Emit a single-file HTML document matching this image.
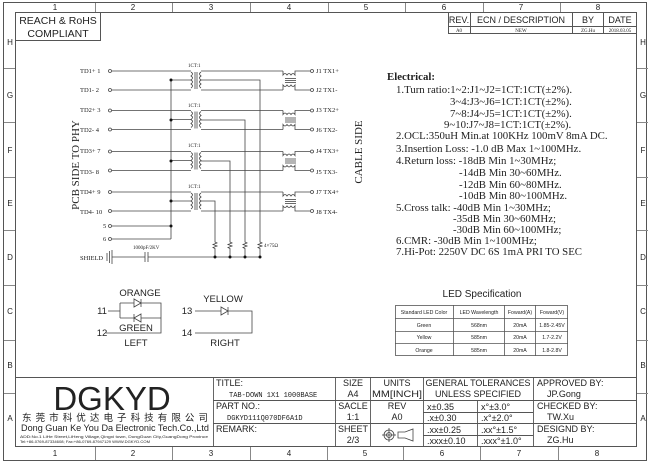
<!DOCTYPE html>
<html><head><meta charset="utf-8"><style>
html,body{margin:0;padding:0;background:#fff}
svg{display:block}
text{font-family:"Liberation Sans",sans-serif;fill:#222}
.s{font-family:"Liberation Serif",serif}
.m{font-family:"Liberation Mono",monospace}
</style></head><body>
<svg width="650" height="462" viewBox="0 0 650 462" xmlns="http://www.w3.org/2000/svg">
<g fill="none" stroke="#555" stroke-width="1">
<rect x="3.5" y="2.5" width="643" height="458"/>
<rect x="15.5" y="12.5" width="621" height="434"/>
</g>
<g stroke="#888" stroke-width="1">
<line x1="95.5" y1="3" x2="95.5" y2="12"/><line x1="172.5" y1="3" x2="172.5" y2="12"/><line x1="250.5" y1="3" x2="250.5" y2="12"/><line x1="328.5" y1="3" x2="328.5" y2="12"/><line x1="405.5" y1="3" x2="405.5" y2="12"/><line x1="483.5" y1="3" x2="483.5" y2="12"/><line x1="560.5" y1="3" x2="560.5" y2="12"/>
<line x1="95.5" y1="447" x2="95.5" y2="460"/><line x1="172.5" y1="447" x2="172.5" y2="460"/><line x1="250.5" y1="447" x2="250.5" y2="460"/><line x1="327.5" y1="447" x2="327.5" y2="460"/><line x1="403.5" y1="447" x2="403.5" y2="460"/><line x1="480.5" y1="447" x2="480.5" y2="460"/><line x1="558.5" y1="447" x2="558.5" y2="460"/>
<g id="rt"><line x1="4" y1="68.5" x2="15" y2="68.5"/><line x1="4" y1="122.5" x2="15" y2="122.5"/><line x1="4" y1="177.5" x2="15" y2="177.5"/><line x1="4" y1="230.5" x2="15" y2="230.5"/><line x1="4" y1="285.5" x2="15" y2="285.5"/><line x1="4" y1="340.5" x2="15" y2="340.5"/><line x1="4" y1="393.5" x2="15" y2="393.5"/></g>
<use href="#rt" x="633"/>
</g>
<g font-size="8" text-anchor="middle">
<text x="55" y="10">1</text><text x="133" y="10">2</text><text x="211" y="10">3</text><text x="289" y="10">4</text><text x="366" y="10">5</text><text x="444" y="10">6</text><text x="521" y="10">7</text><text x="598" y="10">8</text>
<text x="55" y="456">1</text><text x="133" y="456">2</text><text x="211" y="456">3</text><text x="289" y="456">4</text><text x="365" y="456">5</text><text x="442" y="456">6</text><text x="519" y="456">7</text><text x="597" y="456">8</text>
<text x="10" y="45">H</text><text x="10" y="98">G</text><text x="10" y="153">F</text><text x="10" y="206">E</text><text x="10" y="260">D</text><text x="10" y="314">C</text><text x="10" y="368">B</text><text x="10" y="421">A</text>
<text x="643" y="45">H</text><text x="643" y="98">G</text><text x="643" y="153">F</text><text x="643" y="206">E</text><text x="643" y="260">D</text><text x="643" y="314">C</text><text x="643" y="368">B</text><text x="643" y="421">A</text>
</g>
<rect x="15.5" y="12.5" width="85" height="28" fill="none" stroke="#555"/>
<text x="58" y="24" font-size="10.5" text-anchor="middle">REACH &amp; RoHS</text>
<text x="58" y="37" font-size="10.5" text-anchor="middle">COMPLIANT</text>
<g fill="none" stroke="#555"><rect x="448.5" y="12.5" width="188" height="21"/><line x1="448" y1="26.5" x2="637" y2="26.5"/><line x1="470.5" y1="13" x2="470.5" y2="33"/><line x1="572.5" y1="13" x2="572.5" y2="33"/><line x1="603.5" y1="13" x2="603.5" y2="33"/></g>
<g font-size="9" text-anchor="middle"><text x="459" y="23">REV.</text><text x="521" y="23">ECN / DESCRIPTION</text><text x="588" y="23">BY</text><text x="620" y="23">DATE</text></g>
<g font-size="5" text-anchor="middle"><text class="s" x="459" y="32">A0</text><text class="s" x="521" y="32">NEW</text><text class="s" x="588" y="32">ZG.Hu</text><text class="s" x="620" y="32">2018.03.05</text></g>
<g stroke="#444" stroke-width="0.8" fill="none">
<g id="p">
<circle cx="110" cy="71" r="1.5"/><circle cx="110" cy="90" r="1.5"/>
<line x1="112" y1="71" x2="191" y2="71"/><line x1="112" y1="90" x2="191" y2="90"/>
<line x1="171" y1="80" x2="191" y2="80"/>
<path d="M191 72 q3 2 0 4 q3 2 0 4 q3 2 0 4 q3 2 0 4"/>
<line x1="195" y1="72" x2="195" y2="89"/><line x1="197" y1="72" x2="197" y2="89"/>
<path d="M201 72 q-3 2 0 4 q-3 2 0 4 q-3 2 0 4 q-3 2 0 4"/>
<line x1="201" y1="71" x2="283" y2="71"/><line x1="201" y1="90" x2="283" y2="90"/>
<path d="M283 71 v4 q2 -3 4 0 q2 -3 4 0 q2 -3 4 0 v-4 h15"/>
<path d="M283 90 v-5 q2 3 4 0 q2 3 4 0 q2 3 4 0 v5 h15"/>
<line x1="285" y1="78.5" x2="296" y2="78.5"/><line x1="285" y1="80.5" x2="296" y2="80.5"/><line x1="285" y1="82.5" x2="296" y2="82.5"/>
<circle cx="312" cy="71" r="1.5"/><circle cx="312" cy="90" r="1.5"/>
</g>
<use href="#p" y="39.5"/><use href="#p" y="80.5"/><use href="#p" y="121"/>
<line x1="171" y1="80" x2="171" y2="239"/>
<circle cx="110" cy="226" r="1.5"/><circle cx="110" cy="239" r="1.5"/>
<line x1="112" y1="226" x2="171" y2="226"/><line x1="112" y1="239" x2="171" y2="239"/>
<path d="M201 80 H260 V242 l2 1 l-4 1.5 l4 1.5 l-4 1.5 l2 1 V257"/>
<path d="M201 120 H245 V242 l2 1 l-4 1.5 l4 1.5 l-4 1.5 l2 1 V257"/>
<path d="M201 161 H230 V242 l2 1 l-4 1.5 l4 1.5 l-4 1.5 l2 1 V257"/>
<path d="M201 201 H215 V242 l2 1 l-4 1.5 l4 1.5 l-4 1.5 l2 1 V257"/>
<line x1="112" y1="257" x2="145" y2="257"/><line x1="148" y1="257" x2="260" y2="257"/>
<line x1="145" y1="252" x2="145" y2="262"/><line x1="148" y1="252" x2="148" y2="262"/>
<line x1="107" y1="253" x2="107" y2="261"/><line x1="109.5" y1="251" x2="109.5" y2="263"/><line x1="112" y1="250" x2="112" y2="264"/>
</g>
<g fill="#111">
<circle cx="171" cy="80" r="1.5"/><circle cx="171" cy="120" r="1.5"/><circle cx="171" cy="161" r="1.5"/><circle cx="171" cy="201" r="1.5"/><circle cx="171" cy="226" r="1.5"/>
<circle cx="215" cy="257" r="1.5"/><circle cx="230" cy="257" r="1.5"/><circle cx="245" cy="257" r="1.5"/><circle cx="260" cy="257" r="1.5"/>
</g>
<g font-size="6.5">
<text class="s" x="80" y="73">TD1+ 1</text><text class="s" x="80" y="92">TD1- 2</text>
<text class="s" x="80" y="112">TD2+ 3</text><text class="s" x="80" y="132">TD2- 4</text>
<text class="s" x="80" y="153">TD3+ 7</text><text class="s" x="80" y="174">TD3- 8</text>
<text class="s" x="80" y="194">TD4+ 9</text><text class="s" x="80" y="214">TD4- 10</text>
<text class="s" x="103" y="228">5</text><text class="s" x="103" y="241">6</text>
<text class="s" x="80" y="260">SHIELD</text>
<text class="s" x="316" y="73">J1 TX1+</text><text class="s" x="316" y="92">J2 TX1-</text>
<text class="s" x="316" y="112">J3 TX2+</text><text class="s" x="316" y="132">J6 TX2-</text>
<text class="s" x="316" y="153">J4 TX3+</text><text class="s" x="316" y="174">J5 TX3-</text>
<text class="s" x="316" y="194">J7 TX4+</text><text class="s" x="316" y="214">J8 TX4-</text>
</g>
<g font-size="5">
<text class="s" x="188" y="67">1CT:1</text><text class="s" x="188" y="107">1CT:1</text><text class="s" x="188" y="147">1CT:1</text><text class="s" x="188" y="188">1CT:1</text>
<text class="s" x="133" y="249">1000pF/2KV</text><text class="s" x="264" y="247">4×75Ω</text>
</g>
<text class="s" font-size="11" transform="translate(79,165) rotate(-90)" text-anchor="middle">PCB SIDE TO PHY</text>
<text class="s" font-size="11" transform="translate(362,152) rotate(-90)" text-anchor="middle">CABLE SIDE</text>
<g font-size="10.8">
<text class="s" x="387" y="80" font-weight="bold">Electrical:</text>
<text class="s" x="396" y="93">1.Turn ratio:1~2:J1~J2=1CT:1CT(±2%).</text>
<text class="s" x="450" y="105">3~4:J3~J6=1CT:1CT(±2%).</text>
<text class="s" x="450" y="117">7~8:J4~J5=1CT:1CT(±2%).</text>
<text class="s" x="444" y="128">9~10:J7~J8=1CT:1CT(±2%).</text>
<text class="s" x="396" y="139">2.OCL:350uH Min.at 100KHz 100mV 8mA DC.</text>
<text class="s" x="396" y="152">3.Insertion Loss: -1.0 dB Max 1~100MHz.</text>
<text class="s" x="396" y="164">4.Return loss: -18dB Min 1~30MHz;</text>
<text class="s" x="459" y="176">-14dB Min 30~60MHz.</text>
<text class="s" x="459" y="188">-12dB Min 60~80MHz.</text>
<text class="s" x="459" y="199">-10dB Min 80~100MHz.</text>
<text class="s" x="396" y="211">5.Cross talk: -40dB Min 1~30MHz;</text>
<text class="s" x="453" y="222">-35dB Min 30~60MHz;</text>
<text class="s" x="453" y="233">-30dB Min 60~100MHz;</text>
<text class="s" x="396" y="244">6.CMR: -30dB Min 1~100MHz;</text>
<text class="s" x="396" y="255">7.Hi-Pot: 2250V DC  6S 1mA PRI TO SEC</text>
</g>
<g stroke="#444" stroke-width="0.8" fill="none">
<path d="M108 311 H120 M120 303 V318 M120 303 H161 V333 H106 M120 318 H161"/>
<path d="M134 299 v8 l7 -4 z M141 299 v8" fill="#fff"/>
<path d="M141 314 v8 l-7 -4 z M134 314 v8" fill="#fff"/>
<path d="M195 311 H252 V333 H195"/>
<path d="M221 307 v8 l7 -4 z M228 307 v8" fill="#fff"/>
</g>
<g font-size="9.5" text-anchor="middle">
<text x="140" y="296">ORANGE</text><text x="102" y="314">11</text><text x="102" y="336">12</text>
<text x="136" y="331">GREEN</text><text x="136" y="346">LEFT</text>
<text x="223" y="302">YELLOW</text><text x="187" y="314">13</text><text x="187" y="336">14</text><text x="225" y="346">RIGHT</text>
</g>
<text x="482" y="297" font-size="10" text-anchor="middle">LED Specification</text>
<g fill="none" stroke="#555" stroke-width="0.8"><rect x="395.5" y="305.5" width="172" height="50"/>
<line x1="395" y1="318.5" x2="568" y2="318.5"/><line x1="395" y1="331.5" x2="568" y2="331.5"/><line x1="395" y1="343.5" x2="568" y2="343.5"/>
<line x1="453.5" y1="305" x2="453.5" y2="356"/><line x1="504.5" y1="305" x2="504.5" y2="356"/><line x1="535.5" y1="305" x2="535.5" y2="356"/></g>
<g font-size="5.2" text-anchor="middle">
<text x="424" y="314">Standard LED Color</text><text x="479" y="314">LED Wavelength</text><text x="520" y="314">Foward(A)</text><text x="552" y="314">Foward(V)</text>
<text x="424" y="327">Green</text><text x="479" y="327">568nm</text><text x="520" y="327">20mA</text><text x="552" y="327">1.85-2.45V</text>
<text x="424" y="339">Yellow</text><text x="479" y="339">585nm</text><text x="520" y="339">20mA</text><text x="552" y="339">1.7-2.2V</text>
<text x="424" y="352">Orange</text><text x="479" y="352">585nm</text><text x="520" y="352">20mA</text><text x="552" y="352">1.8-2.8V</text>
</g>
<g fill="none" stroke="#555" stroke-width="0.9">
<line x1="15" y1="377.5" x2="637" y2="377.5"/>
<line x1="213.5" y1="377" x2="213.5" y2="447"/><line x1="335.5" y1="377" x2="335.5" y2="447"/><line x1="370.5" y1="377" x2="370.5" y2="447"/><line x1="423.5" y1="377" x2="423.5" y2="447"/><line x1="533.5" y1="377" x2="533.5" y2="447"/>
<line x1="477.5" y1="400" x2="477.5" y2="447"/>
<line x1="213" y1="400.5" x2="637" y2="400.5"/><line x1="213" y1="423.5" x2="637" y2="423.5"/>
<line x1="423" y1="412.5" x2="533" y2="412.5"/><line x1="423" y1="435.5" x2="533" y2="435.5"/>
</g>
<text x="112" y="410" font-size="33" text-anchor="middle">DGKYD</text>
<text x="22" y="421" font-size="9.5" textLength="186" lengthAdjust="spacing" style='font-family:"Liberation Sans","Noto Sans CJK SC",sans-serif'>东莞市科优达电子科技有限公司</text>
<text x="21" y="431" font-size="9.5" textLength="188" lengthAdjust="spacingAndGlyphs">Dong Guan Ke You Da Electronic Tech.Co.,Ltd</text>
<text x="20" y="438" font-size="3.6" textLength="188" lengthAdjust="spacingAndGlyphs">ADD:No.1 LiHe Street,LiHeng Village,Qingxi town, DongGuan City,GuangDong Province</text>
<text x="20" y="443" font-size="3.6" textLength="130" lengthAdjust="spacingAndGlyphs">Tel:+86-0769-87334608; Fax:+86-0769-87947129  WWW.DGKYD.COM</text>
<g font-size="9">
<text x="216" y="386">TITLE:</text><text x="216" y="409">PART NO.:</text><text x="216" y="432">REMARK:</text>
<text x="537" y="386">APPROVED BY:</text><text x="537" y="409">CHECKED BY:</text><text x="537" y="432">DESIGND BY:</text>
<text x="547" y="397">JP.Gong</text><text x="547" y="420">TW.Xu</text><text x="547" y="443">ZG.Hu</text>
</g>
<g font-size="9" text-anchor="middle">
<text x="353" y="386">SIZE</text><text x="353" y="397">A4</text><text x="353" y="409">SACLE</text><text x="353" y="420">1:1</text><text x="353" y="432">SHEET</text><text x="353" y="443">2/3</text>
<text x="397" y="386">UNITS</text><text x="397" y="397" textLength="50" lengthAdjust="spacingAndGlyphs">MM[INCH]</text><text x="397" y="409">REV</text><text x="397" y="420">A0</text>
<text x="478" y="386" textLength="105" lengthAdjust="spacingAndGlyphs">GENERAL TOLERANCES</text><text x="478" y="397">UNLESS SPECIFIED</text>
</g>
<g font-size="9">
<text x="427" y="410">x±0.35</text><text x="481" y="410">x°±3.0°</text>
<text x="427" y="421">.x±0.30</text><text x="481" y="421">.x°±2.0°</text>
<text x="427" y="433">.xx±0.25</text><text x="481" y="433">.xx°±1.5°</text>
<text x="427" y="444">.xxx±0.10</text><text x="481" y="444">.xxx°±1.0°</text>
</g>
<g font-size="7"><text class="m" x="229" y="397">TAB-DOWN 1X1 1000BASE</text><text class="m" x="227" y="420">DGKYD111Q070DF6A1D</text></g>
<g fill="none" stroke="#444" stroke-width="0.8">
<circle cx="389" cy="435" r="5"/><circle cx="389" cy="435" r="2.5"/><line x1="382" y1="435" x2="396" y2="435"/><line x1="389" y1="428" x2="389" y2="442"/>
<path d="M398 432 H405 L413 429 V441 L405 438 H398 Z"/>
</g>
</svg>
</body></html>
